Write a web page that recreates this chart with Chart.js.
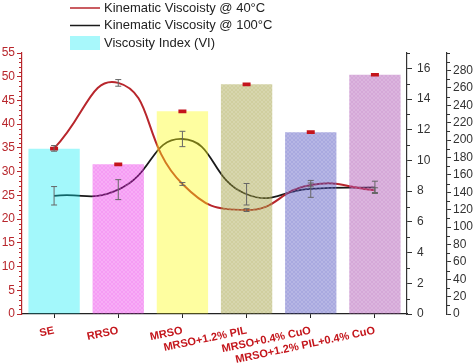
<!DOCTYPE html>
<html>
<head>
<meta charset="utf-8">
<script src="https://cdn.jsdelivr.net/npm/chart.js@4"></script>
<style>
  body { margin: 0; background: #fff; }
  canvas { display: block; }
</style>
</head>
<body>
<canvas id="visc-chart" width="474" height="364"></canvas>
<script>
// samples
const categories = ['SE', 'RRSO', 'MRSO', 'MRSO+1.2% PIL', 'MRSO+0.4% CuO', 'MRSO+1.2% PIL+0.4% CuO'];

// kinematic viscosity @ 40C (left axis, cSt)
const kv40 = [34.9, 48.7, 27.4, 21.9, 27.2, 26.1];
const kv40Err = [0.6, 0.7, 0.3, 0.3, 0.4, 0.5];

// kinematic viscosity @ 100C (right axis 1, cSt)
const kv100 = [7.7, 8.1, 11.4, 7.8, 8.15, 8.25];
const kv100Err = [0.6, 0.65, 0.5, 0.7, 0.55, 0.4];

// viscosity index (right axis 2)
const vi = [190, 172, 233, 264, 209, 275];
const viErr = [1, 1, 1, 1, 1, 1];

// tick setup
const leftTicks = { min: 0, max: 55, step: 5, minor: 1 };
const kv100Ticks = { min: 0, max: 17, step: 2, minor: 1 };
const viTicks = { min: 0, max: 300, step: 20, minor: 10, lastLabel: 280 };

const FONT = '"Liberation Sans", Arial, sans-serif';
const RED = '#b8262c';
const AXIS_DARK = '#333';

function hatch(base, line) {
    const c = document.createElement('canvas');
    c.width = c.height = 4;
    const g = c.getContext('2d');
    g.fillStyle = base;
    g.fillRect(0, 0, 4, 4);
    g.strokeStyle = line;
    g.lineWidth = 0.8;
    g.beginPath();
    g.moveTo(0, 4); g.lineTo(4, 0);
    g.moveTo(0, 0); g.lineTo(4, 4);
    g.stroke();
    return g.createPattern(c, 'repeat');
}

const barFills = [
    'rgba(0,236,245,0.36)',
    hatch('rgba(230,8,227,0.40)', 'rgba(255,255,255,0.22)'),
    'rgba(252,252,18,0.40)',
    hatch('rgba(151,148,42,0.45)', 'rgba(255,255,255,0.2)'),
    hatch('rgba(64,64,184,0.45)', 'rgba(255,255,255,0.2)'),
    hatch('rgba(162,62,168,0.45)', 'rgba(255,255,255,0.2)')
];

// error bars drawn through the dataset's own y scale
const errorBars = {
    id: 'errorBars',
    afterDatasetsDraw(chart) {
        const ctx = chart.ctx;
        chart.data.datasets.forEach((ds, i) => {
            if (!ds.errors) return;
            const meta = chart.getDatasetMeta(i);
            const ys = chart.scales[ds.yAxisID];
            ctx.save();
            ctx.strokeStyle = ds.errorColor;
            ctx.lineWidth = ds.errorWidth;
            meta.data.forEach((el, j) => {
                const v = ds.data[j], e = ds.errors[j];
                const top = ys.getPixelForValue(v + e);
                const bot = ys.getPixelForValue(v - e);
                const x = el.x, w = ds.capWidth;
                ctx.beginPath();
                ctx.moveTo(x, top); ctx.lineTo(x, bot);
                ctx.moveTo(x - w, top); ctx.lineTo(x + w, top);
                ctx.moveTo(x - w, bot); ctx.lineTo(x + w, bot);
                ctx.stroke();
            });
            ctx.restore();
        });
    }
};

// short minor ticks between the labelled ones
const minorTicks = {
    id: 'minorTicks',
    afterDraw(chart) {
        const ctx = chart.ctx;
        const cfg = { y: [leftTicks, RED, -1], y1: [kv100Ticks, AXIS_DARK, 1], y2: [viTicks, AXIS_DARK, 1] };
        Object.entries(cfg).forEach(([id, [t, color, dir]]) => {
            const s = chart.scales[id];
            const x0 = dir < 0 ? s.right : s.left;
            ctx.save();
            ctx.strokeStyle = color;
            ctx.lineWidth = 1;
            ctx.beginPath();
            for (let v = t.min; v <= t.max + 1e-9; v += t.minor) {
                if (Math.abs(v % t.step) < 1e-9 && v <= (t.lastLabel ?? t.max)) continue;
                const y = Math.round(s.getPixelForValue(v)) + 0.5;
                ctx.moveTo(x0, y); ctx.lineTo(x0 + dir * 3, y);
            }
            ctx.stroke();
            ctx.restore();
        });
    }
};

const legendBox = {
    id: 'legendBox',
    afterDraw(chart) {
        const ctx = chart.ctx;
        const items = [
            { label: 'Kinematic Viscoisty @ 40°C', type: 'line', color: RED },
            { label: 'Kinematic Viscosity @ 100°C', type: 'line', color: '#1a1a1a' },
            { label: 'Viscosity Index (VI)', type: 'box', color: '#a8f8fb' }
        ];
        ctx.save();
        ctx.font = '13px ' + FONT;
        ctx.textBaseline = 'middle';
        ctx.fillStyle = '#222';
        items.forEach((it, i) => {
            const y = 8 + i * 17.5;
            if (it.type === 'line') {
                ctx.strokeStyle = it.color;
                ctx.lineWidth = 1.5;
                ctx.beginPath(); ctx.moveTo(70, y); ctx.lineTo(100, y); ctx.stroke();
            } else {
                ctx.fillStyle = it.color;
                ctx.fillRect(70, y - 7, 30, 14);
                ctx.fillStyle = '#222';
            }
            ctx.fillText(it.label, 104, y);
        });
        ctx.restore();
    }
};

const tickFont = { family: FONT, size: 12 };

new Chart(document.getElementById('visc-chart'), {
    data: {
        labels: categories,
        datasets: [
            {
                type: 'bar', label: 'Viscosity Index (VI)', data: vi, yAxisID: 'y2',
                backgroundColor: barFills, borderWidth: 0,
                barPercentage: 0.8, categoryPercentage: 1,
                errors: viErr, errorColor: '#c4141c', errorWidth: 2, capWidth: 4
            },
            {
                type: 'line', label: 'Kinematic Viscoisty @ 40°C', data: kv40, yAxisID: 'y',
                borderColor: RED, borderWidth: 2, pointRadius: 0, tension: 0.5, fill: false,
                errors: kv40Err, errorColor: '#666', errorWidth: 1, capWidth: 3
            },
            {
                type: 'line', label: 'Kinematic Viscosity @ 100°C', data: kv100, yAxisID: 'y1',
                borderColor: '#1a1a1a', borderWidth: 1.8, pointRadius: 0, tension: 0.5, fill: false,
                errors: kv100Err, errorColor: '#666', errorWidth: 1, capWidth: 3
            }
        ]
    },
    options: {
        responsive: false,
        devicePixelRatio: 1,
        animation: false,
        layout: { padding: { top: 53, left: 0, right: 0, bottom: 0 } },
        plugins: { legend: { display: false }, tooltip: { enabled: false } },
        scales: {
            x: {
                offset: true,
                grid: { display: true, drawOnChartArea: false, offset: false, tickLength: 4, tickColor: '#222' },
                border: { color: '#222', width: 1.2 },
                ticks: {
                    color: '#c4161c', font: { family: FONT, size: 11, weight: 'bold' },
                    minRotation: 12, maxRotation: 12, autoSkip: false, padding: 6
                },
                afterFit: s => { s.height = 50; }
            },
            y: {
                position: 'left', min: leftTicks.min, max: leftTicks.max,
                grid: { drawOnChartArea: false, tickLength: 5, tickColor: RED },
                border: { color: RED, width: 1.2 },
                ticks: { stepSize: leftTicks.step, color: RED, font: tickFont, padding: 2 },
                afterFit: s => { s.width = 22; }
            },
            y1: {
                position: 'right', min: kv100Ticks.min, max: kv100Ticks.max,
                grid: { drawOnChartArea: false, tickLength: 5, tickColor: AXIS_DARK },
                border: { color: AXIS_DARK, width: 1.2 },
                ticks: { stepSize: kv100Ticks.step, color: AXIS_DARK, font: tickFont, padding: 5 },
                afterBuildTicks: s => { s.ticks = s.ticks.filter(t => t.value % kv100Ticks.step === 0); },
                afterFit: s => { s.width = 40; }
            },
            y2: {
                position: 'right', min: viTicks.min, max: viTicks.max,
                grid: { drawOnChartArea: false, tickLength: 4, tickColor: AXIS_DARK },
                border: { color: AXIS_DARK, width: 1.2 },
                ticks: { stepSize: viTicks.step, color: AXIS_DARK, font: tickFont, padding: 2 },
                afterBuildTicks: s => { s.ticks = s.ticks.filter(t => t.value <= viTicks.lastLabel); },
                afterFit: s => { s.width = 27; }
            }
        }
    },
    plugins: [errorBars, minorTicks, legendBox]
});
</script>
</body>
</html>
